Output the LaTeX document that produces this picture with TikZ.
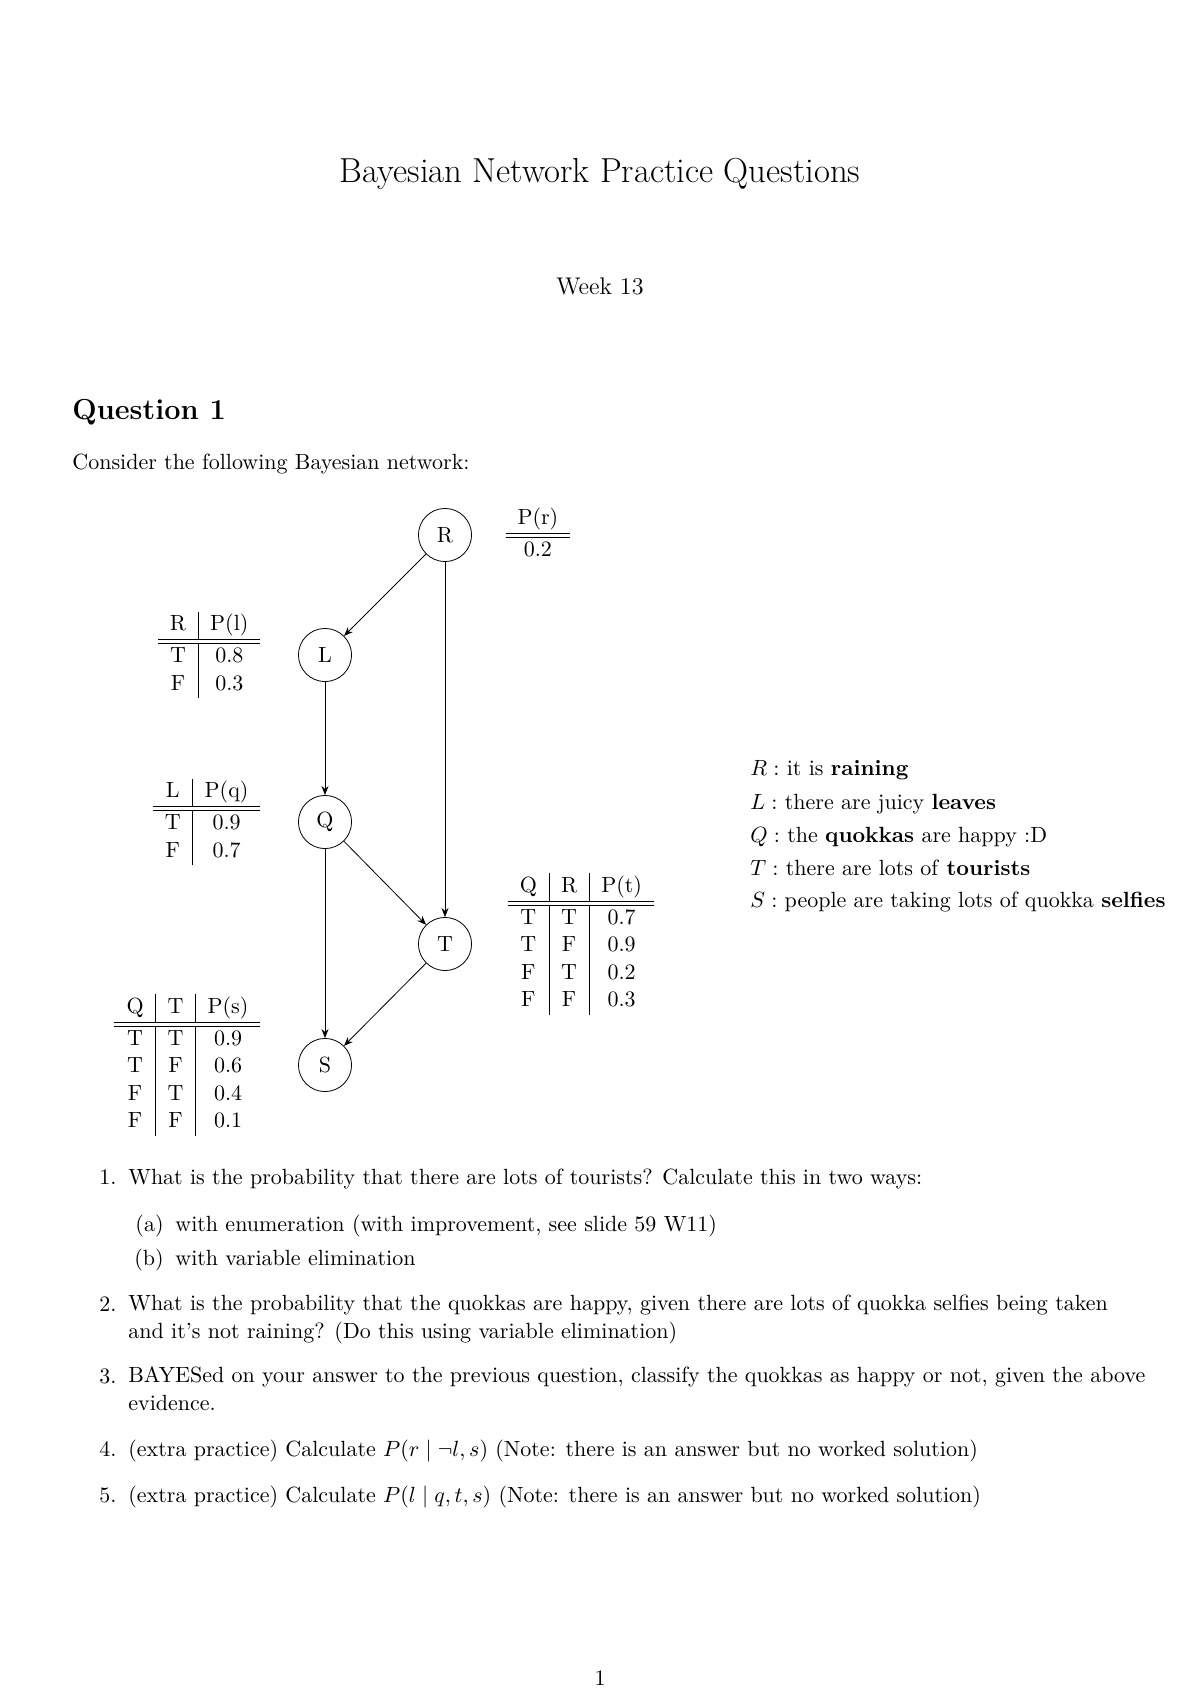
\documentclass[tikz,border=0pt]{standalone}
\usepackage{amsmath}
\usetikzlibrary{positioning, arrows.meta}

\begin{document}
\begin{tikzpicture}[x=0.0175cm, y=-0.0175cm, inner sep=0pt,
    font=\fontsize{10.95}{13.6}\selectfont, >={Stealth[length=4.5pt,width=3.5pt]},
    var/.style={draw, circle, thin, minimum size=0.93cm, inner sep=0pt},
    cpt/.style={inner sep=0pt},
    edge/.style={->, thin},
    txt/.style={anchor=base west}]
  \useasboundingbox (0,0) rectangle (1200,1696);

  % heading
  \node[anchor=base] (title) at (600,183) {\fontsize{17.28}{21}\selectfont Bayesian Network Practice Questions};
  \node[anchor=base] (week) at (600,295) {\fontsize{12}{14.5}\selectfont Week 13};
  \node[txt] (qhead) at (72,419) {\fontsize{14.4}{18}\selectfont\bfseries Question 1};
  \node[txt] (intro) at (72,469) {Consider the following Bayesian network:};

  % network
  \node[var] (R) at (445,535) {R};
  \node[var] (L) at (325,655) {L};
  \node[var] (Q) at (325,822) {Q};
  \node[var] (T) at (445,944) {T};
  \node[var] (S) at (325,1065) {S};

  \draw[edge] (R) -- (L);
  \draw[edge] (R) -- (T);
  \draw[edge] (L) -- (Q);
  \draw[edge] (Q) -- (T);
  \draw[edge] (Q) -- (S);
  \draw[edge] (T) -- (S);

  % tables
  \node[cpt, right=0.58cm of R] (pR) {\begin{tabular}{c} P(r) \\ \hline\hline 0.2 \end{tabular}};
  \node[cpt, left=0.65cm of L] (pL) {\begin{tabular}{c|c} R & P(l) \\ \hline\hline T & 0.8 \\ F & 0.3 \end{tabular}};
  \node[cpt, left=0.65cm of Q] (pQ) {\begin{tabular}{c|c} L & P(q) \\ \hline\hline T & 0.9 \\ F & 0.7 \end{tabular}};
  \node[cpt, right=0.62cm of T] (pT) {\begin{tabular}{c|c|c} Q & R & P(t) \\ \hline\hline
      T & T & 0.7 \\ T & F & 0.9 \\ F & T & 0.2 \\ F & F & 0.3 \end{tabular}};
  \node[cpt, left=0.65cm of S] (pS) {\begin{tabular}{c|c|c} Q & T & P(s) \\ \hline\hline
      T & T & 0.9 \\ T & F & 0.6 \\ F & T & 0.4 \\ F & F & 0.1 \end{tabular}};

  % legend
  \node[txt] (kR) at (750,775) {$R:$ it is \textbf{raining}};
  \node[txt] (kL) at (750,809) {$L:$ there are juicy \textbf{leaves}};
  \node[txt] (kQ) at (750,842) {$Q:$ the \textbf{quokkas} are happy :D};
  \node[txt] (kT) at (750,875) {$T:$ there are lots of \textbf{tourists}};
  \node[txt] (kS) at (750,907) {$S:$ people are taking lots of quokka \textbf{selfies}};

  % questions
  \node[anchor=base east] (n1) at (117,1184) {1.};
  \node[txt] (q1) at (128,1184) {What is the probability that there are lots of tourists? Calculate this in two ways:};
  \node[anchor=base east] (na) at (164,1231) {(a)};
  \node[txt] (qa) at (175,1231) {with enumeration (with improvement, see slide 59 W11)};
  \node[anchor=base east] (nb) at (164,1265) {(b)};
  \node[txt] (qb) at (175,1265) {with variable elimination};
  \node[anchor=base east] (n2) at (117,1311) {2.};
  \node[txt, align=left] (q2) at (128,1338) {What is the probability that the quokkas are happy, given there are lots of quokka selfies being taken\\
    and it's not raining? (Do this using variable elimination)};
  \node[anchor=base east] (n3) at (117,1383) {3.};
  \node[txt, align=left] (q3) at (128,1410) {BAYESed on your answer to the previous question, classify the quokkas as happy or not, given the above\\
    evidence.};
  \node[anchor=base east] (n4) at (117,1456) {4.};
  \node[txt] (q4) at (128,1456) {(extra practice) Calculate $P(r \mid \neg l, s)$ (Note: there is an answer but no worked solution)};
  \node[anchor=base east] (n5) at (117,1502) {5.};
  \node[txt] (q5) at (128,1502) {(extra practice) Calculate $P(l \mid q, t, s)$ (Note: there is an answer but no worked solution)};

  \node[anchor=base] (page) at (600,1685) {1};
\end{tikzpicture}
\end{document}
